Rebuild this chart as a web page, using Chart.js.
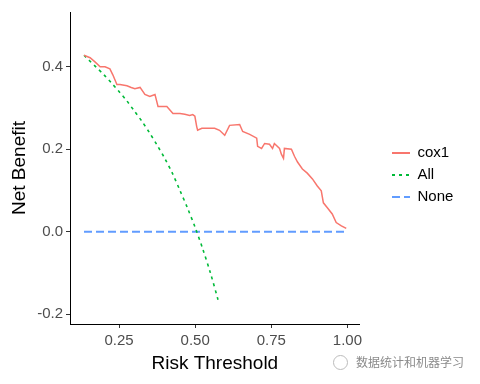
<!DOCTYPE html>
<html>
<head>
<meta charset="utf-8">
<script src="https://cdn.jsdelivr.net/npm/chart.js@4.4.1/dist/chart.umd.min.js"></script>
<style>
  body { margin: 0; background: #fff; }
  #wrap { position: relative; width: 480px; height: 384px; }
  #mark { position: absolute; left: 333px; top: 353px; font: 12px "Noto Sans CJK SC", sans-serif; color: #8a8a8a; white-space: nowrap; }
  #mark span.ico { display: inline-block; width: 13px; height: 13px; border: 1px solid #bbb; border-radius: 50%; vertical-align: -3px; margin-right: 8px; }
</style>
</head>
<body>
<div id="wrap">
  <canvas id="c" width="480" height="384"></canvas>
  <div id="mark"><span class="ico"></span>数据统计和机器学习</div>
</div>
<script>
// valores
const coxThresholds = [0.135, 0.145, 0.155, 0.171, 0.188, 0.204, 0.220, 0.230, 0.243, 0.253,
  0.276, 0.290, 0.302, 0.319, 0.335, 0.351, 0.368, 0.378, 0.407, 0.427,
  0.450, 0.466, 0.482, 0.492, 0.499, 0.505, 0.508, 0.522, 0.541, 0.564,
  0.580, 0.597, 0.613, 0.646, 0.656, 0.679, 0.702, 0.705, 0.718, 0.728,
  0.744, 0.754, 0.760, 0.777, 0.783, 0.790, 0.793, 0.816, 0.826, 0.836,
  0.852, 0.868, 0.885, 0.901, 0.914, 0.921, 0.934, 0.950, 0.963, 0.980, 0.996];
const coxBenefit = [0.428, 0.425, 0.422, 0.412, 0.400, 0.400, 0.395, 0.380, 0.357, 0.357,
  0.354, 0.350, 0.347, 0.350, 0.333, 0.328, 0.333, 0.304, 0.304, 0.287,
  0.287, 0.285, 0.282, 0.284, 0.280, 0.255, 0.246, 0.251, 0.251, 0.251,
  0.246, 0.234, 0.258, 0.260, 0.243, 0.236, 0.227, 0.207, 0.202, 0.214,
  0.212, 0.202, 0.214, 0.202, 0.188, 0.178, 0.202, 0.200, 0.183, 0.169,
  0.152, 0.142, 0.128, 0.111, 0.099, 0.070, 0.058, 0.043, 0.022, 0.014, 0.008];

const allThresholds = [0.135, 0.15, 0.175, 0.2, 0.225, 0.25, 0.275, 0.3, 0.325, 0.35,
  0.375, 0.4, 0.425, 0.45, 0.475, 0.5, 0.525, 0.55, 0.575];
const allBenefit = [0.428, 0.417, 0.399, 0.381, 0.361, 0.340, 0.318, 0.293, 0.268, 0.240,
  0.210, 0.178, 0.142, 0.100, 0.057, 0.010, -0.042, -0.100, -0.165];

const noneThresholds = [0.135, 0.996];
const noneBenefit = [0, 0];

const xTicks = [0.25, 0.5, 0.75, 1.0];
const yTicks = [-0.2, 0.0, 0.2, 0.4];

function pts(xs, ys) {
    return xs.map((x, i) => ({ x: x, y: ys[i] }));
}

const axisGrid = { display: true, drawOnChartArea: false, drawTicks: true, tickLength: 4, color: '#333' };
const tickFont = { family: 'Liberation Sans, Arial', size: 15 };
const titleFont = { family: 'Liberation Sans, Arial', size: 19 };

// mover la leyenda para que quede como en ggplot
const legendShift = {
    id: 'legendShift',
    afterLayout(chart) {
        const l = chart.legend;
        const dx = 385 - l.left;
        l.left += dx; l.right += dx;
        l.top -= 22; l.bottom -= 22;
    }
};

new Chart(document.getElementById('c').getContext('2d'), {
    type: 'line',
    data: {
        datasets: [
            { label: 'cox1', data: pts(coxThresholds, coxBenefit), borderColor: '#F8766D', borderWidth: 1.5, pointRadius: 0, tension: 0 },
            { label: 'All', data: pts(allThresholds, allBenefit), borderColor: '#00BA38', borderWidth: 1.6, borderDash: [3, 4], pointRadius: 0, tension: 0.3 },
            { label: 'None', data: pts(noneThresholds, noneBenefit), borderColor: '#619CFF', borderWidth: 2, borderDash: [8, 4], pointRadius: 0 }
        ]
    },
    plugins: [legendShift],
    options: {
        responsive: false,
        animation: false,
        layout: { padding: { top: 10, left: 0, right: 42, bottom: 0 } },
        plugins: {
            tooltip: { enabled: false },
            legend: {
                position: 'right',
                labels: {
                    usePointStyle: true,
                    pointStyle: 'line',
                    pointStyleWidth: 18,
                    boxHeight: 10,
                    padding: 7,
                    color: '#000',
                    font: { family: 'Liberation Sans, Arial', size: 15 },
                    generateLabels: chart => chart.data.datasets.map((ds, i) => ({
                        text: ds.label,
                        strokeStyle: ds.borderColor,
                        fillStyle: ds.borderColor,
                        lineWidth: 2,
                        lineDash: ds.borderDash || [],
                        pointStyle: 'line',
                        hidden: false,
                        datasetIndex: i
                    }))
                }
            }
        },
        scales: {
            x: {
                type: 'linear',
                min: 0.089, max: 1.04,
                afterBuildTicks: s => { s.ticks = xTicks.map(v => ({ value: v })); },
                afterFit: s => { s.height = 60; },
                ticks: { color: '#4D4D4D', font: tickFont, padding: 4, callback: v => v.toFixed(2) },
                grid: axisGrid,
                border: { display: true, color: '#000', width: 1 },
                title: { display: true, text: 'Risk Threshold', color: '#000', font: titleFont, padding: { top: 4, bottom: 9 } }
            },
            y: {
                min: -0.224, max: 0.533,
                afterBuildTicks: s => { s.ticks = yTicks.map(v => ({ value: v })); },
                afterFit: s => { s.width = 70; },
                ticks: { color: '#4D4D4D', font: tickFont, padding: 3, callback: v => v.toFixed(1) },
                grid: axisGrid,
                border: { display: true, color: '#000', width: 1 },
                title: { display: true, text: 'Net Benefit', color: '#000', font: titleFont, padding: { top: 8, bottom: 4 } }
            }
        }
    }
});
</script>
</body>
</html>
